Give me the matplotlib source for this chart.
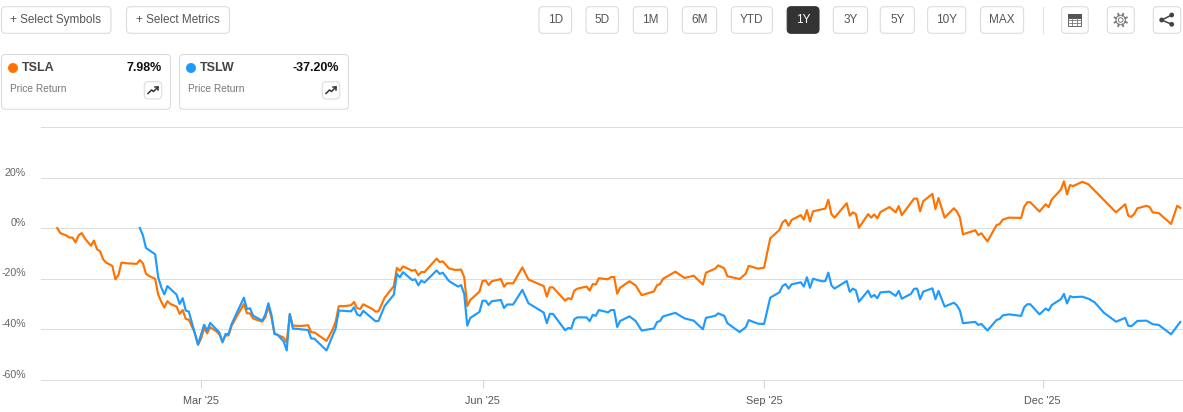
import numpy as np
import matplotlib
matplotlib.use('Agg')
import matplotlib.pyplot as plt
from matplotlib.patches import FancyBboxPatch, Circle, Rectangle

plt.rcParams['font.family'] = ['Liberation Sans', 'DejaVu Sans']

# days since 1 Jan 2025, percent price return
tsla_days = [12, 13, 15, 16, 17, 18, 19, 20, 21, 23, 24, 25, 26, 27, 28, 30, 31, 32, 33, 35, 38, 39, 40, 41, 42, 44,
             45, 46, 47, 48, 49, 51, 52, 53, 54, 55, 57, 58, 59, 60, 61, 62, 64, 65, 66, 67, 68, 69, 71, 73, 74, 75,
             76, 77, 79, 80, 81, 82, 83, 84, 86, 87, 88, 89, 92, 94, 95, 96, 100, 102, 103, 104, 106, 108, 109, 110,
             111, 112, 115, 116, 117, 119, 122, 123, 124, 125, 128, 129, 130, 131, 132, 136, 137, 138, 140, 142, 144,
             145, 146, 147, 150, 151, 152, 153, 154, 157, 158, 159, 161, 164, 166, 171, 172, 173, 174, 178, 179, 180,
             181, 182, 185, 186, 187, 188, 189, 192, 193, 194, 195, 196, 199, 201, 203, 207, 208, 209, 210, 214, 217,
             220, 223, 224, 227, 228, 230, 231, 235, 237, 238, 241, 243, 245, 248, 249, 250, 251, 252, 255, 256, 257,
             258, 259, 263, 264, 265, 266, 270, 271, 272, 273, 274, 277, 278, 279, 280, 281, 284, 286, 287, 288, 292,
             293, 294, 295, 298, 299, 300, 302, 305, 306, 307, 308, 312, 313, 314, 316, 319, 320, 321, 323, 327, 328,
             329, 330, 333, 335, 336, 337, 340, 341, 342, 343, 344, 347, 349, 358, 361, 362, 363, 364, 365, 368, 369,
             370, 372, 376, 378, 379]
tsla_vals = [0.0, -2.0, -3.0, -3.8, -3.8, -5.7, -2.9, -2.0, -4.1, -7.0, -5.0, -8.4, -9.2, -12.4, -13.7, -15.0, -20.3,
             -18.6, -13.7, -14.0, -14.2, -12.7, -14.0, -18.1, -19.0, -20.1, -26.4, -29.2, -31.5, -29.0, -30.1, -31.1,
             -34.0, -32.5, -36.0, -36.3, -41.6, -46.2, -43.9, -39.7, -41.7, -39.3, -40.9, -42.2, -45.0, -42.6, -42.5,
             -38.7, -34.3, -30.1, -33.8, -33.8, -35.8, -36.3, -37.1, -35.4, -31.1, -35.4, -41.7, -42.3, -43.4, -45.3,
             -34.3, -38.7, -38.8, -38.5, -41.3, -41.3, -44.7, -40.2, -37.1, -31.0, -30.9, -30.6, -29.3, -31.7, -32.1,
             -30.2, -32.1, -33.1, -33.0, -27.6, -23.0, -15.8, -16.9, -15.2, -16.9, -16.6, -18.7, -17.4, -17.5, -12.1,
             -13.5, -13.2, -16.0, -16.6, -16.5, -19.5, -30.9, -28.5, -25.2, -21.0, -20.8, -22.6, -21.1, -20.2, -23.2,
             -21.9, -21.9, -15.6, -20.4, -23.0, -27.2, -23.5, -23.5, -28.8, -27.8, -28.2, -24.8, -24.0, -23.2, -24.8,
             -22.2, -22.4, -19.9, -20.3, -19.4, -19.4, -26.0, -23.6, -21.1, -22.7, -26.6, -25.1, -22.7, -22.2, -20.1,
             -17.3, -19.8, -18.9, -22.4, -17.7, -16.1, -14.8, -16.0, -19.1, -20.2, -18.1, -15.0, -16.1, -15.7, -4.1,
             -0.8, 2.1, 3.2, 0.9, 3.2, 5.1, 3.3, 7.1, 2.6, 6.6, 7.7, 11.2, 5.5, 4.1, 9.8, 4.9, 6.2, 5.5, 0.1, 5.5, 4.1,
             5.4, 3.8, 6.3, 8.3, 6.2, 8.7, 5.1, 11.6, 11.7, 6.6, 10.6, 13.5, 7.5, 11.9, 4.1, 7.8, 6.6, 4.1, -2.5, -0.9,
             -2.8, -2.1, -5.3, 1.2, 1.6, 3.3, 4.1, 4.0, 8.4, 10.2, 10.2, 6.5, 9.4, 8.3, 11.3, 15.2, 18.5, 13.3, 17.0,
             16.6, 18.3, 17.3, 6.2, 9.4, 4.9, 4.4, 5.7, 7.8, 8.8, 8.3, 6.2, 5.9, 1.6, 8.8, 7.98]

tslw_days = [39, 40, 41, 44, 45, 46, 47, 48, 51, 52, 53, 54, 55, 58, 60, 61, 62, 65, 66, 67, 68, 69, 73, 74, 75, 76, 79,
             80, 81, 82, 83, 84, 86, 87, 88, 89, 94, 95, 96, 100, 103, 104, 108, 109, 110, 111, 112, 116, 117, 119,
             122, 123, 124, 125, 128, 129, 130, 131, 132, 136, 137, 138, 140, 143, 144, 145, 146, 147, 150, 151, 152,
             153, 154, 157, 158, 159, 161, 164, 166, 171, 172, 173, 174, 178, 179, 180, 181, 182, 185, 186, 187, 188,
             189, 192, 193, 194, 195, 196, 199, 201, 203, 207, 208, 209, 210, 214, 217, 220, 223, 224, 227, 228, 230,
             231, 235, 237, 238, 241, 243, 245, 248, 249, 250, 251, 252, 255, 256, 257, 258, 259, 262, 263, 264, 265,
             266, 270, 271, 272, 273, 274, 277, 278, 279, 280, 281, 284, 286, 287, 288, 291, 292, 293, 294, 295, 298,
             299, 300, 302, 305, 306, 307, 308, 312, 313, 314, 316, 319, 320, 321, 323, 327, 328, 329, 330, 333, 335,
             336, 337, 340, 341, 342, 343, 344, 347, 349, 351, 354, 358, 361, 362, 363, 365, 368, 370, 372, 376, 379]
tslw_vals = [0.0, -2.9, -7.9, -10.4, -19.5, -23.5, -26.3, -23.0, -26.4, -30.1, -27.8, -32.7, -33.1, -46.2, -38.3, -40.6,
             -37.6, -41.4, -45.3, -42.0, -42.0, -38.0, -27.6, -32.1, -31.8, -34.7, -36.7, -34.3, -29.8, -34.3, -42.0,
             -42.3, -44.9, -48.5, -34.0, -39.8, -40.4, -43.8, -43.8, -48.5, -39.7, -32.7, -33.0, -31.4, -34.2, -34.8,
             -32.8, -36.9, -36.8, -30.9, -26.4, -18.2, -19.5, -17.5, -20.6, -20.3, -22.7, -20.8, -21.6, -16.8, -18.2,
             -17.7, -21.0, -23.2, -22.6, -26.1, -38.7, -35.6, -33.2, -28.8, -28.8, -30.5, -29.0, -28.5, -31.7, -30.3,
             -30.3, -24.5, -29.8, -33.5, -37.7, -34.0, -34.0, -40.5, -39.6, -39.8, -36.1, -35.4, -35.4, -36.9, -34.4,
             -34.8, -32.5, -33.4, -32.5, -32.5, -39.2, -36.8, -35.0, -36.8, -40.6, -39.8, -37.3, -36.8, -35.0, -33.6,
             -35.8, -36.7, -40.1, -35.6, -34.8, -33.8, -34.8, -37.7, -41.2, -39.3, -36.5, -37.9, -38.0, -27.6, -25.5,
             -23.0, -22.2, -24.0, -22.3, -21.5, -23.2, -19.5, -23.7, -20.1, -21.1, -21.0, -17.7, -22.7, -24.0, -21.0,
             -25.3, -24.0, -24.7, -29.2, -24.8, -27.4, -26.5, -27.8, -25.5, -25.2, -26.9, -24.9, -28.0, -26.1, -24.1,
             -24.0, -28.2, -25.2, -23.9, -28.2, -24.9, -31.1, -29.6, -30.6, -32.7, -37.7, -37.2, -38.4, -38.0, -40.6,
             -36.4, -36.0, -34.6, -34.2, -34.8, -31.4, -30.2, -30.2, -34.2, -31.9, -32.7, -30.5, -28.2, -26.1, -29.9,
             -27.0, -27.4, -27.2, -28.0, -29.4, -33.5, -37.1, -35.6, -38.7, -38.9, -36.8, -36.7, -38.1, -38.4, -42.1,
             -37.2]

month_ticks = [59, 151, 243, 334]
month_labels = ["Mar '25", "Jun '25", "Sep '25", "Dec '25"]
y_ticks = [-60, -40, -20, 0, 20, 40]
y_labels = ['-60%', '-40%', '-20%', '0%', '20%', '']

range_names = ['1D', '5D', '1M', '6M', 'YTD', '1Y', '3Y', '5Y', '10Y', 'MAX']
range_edges = [(539, 571.6), (586, 618.5), (633.3, 667.6), (682.4, 716.6), (731.4, 772.4), (787.2, 819),
               (833.3, 867.6), (880.3, 914.5), (927.6, 965.7), (980.5, 1023.6)]

ORANGE = '#ff7200'
BLUE = '#1f9bff'
EDGE = '#dcdcdc'
W, H = 1183, 412

fig = plt.figure(figsize=(W / 100, H / 100), dpi=100, facecolor='white')

# the chart itself
ax = fig.add_axes([41 / W, 1 - 379.5 / H, (W - 41) / W, (379.5 - 127) / H])
ax.plot(tsla_days, tsla_vals, color=ORANGE, lw=1.55, solid_joinstyle='round', zorder=3)
ax.plot(tslw_days, tslw_vals, color=BLUE, lw=1.55, solid_joinstyle='round', zorder=4)
ax.set_xlim(6.7, 379.9)
ax.set_ylim(-60, 40)
ax.set_yticks(y_ticks, y_labels)
ax.set_xticks(month_ticks, month_labels)
ax.grid(True, axis='y', color='#dddddd', lw=0.75)
for s in ax.spines.values():
    s.set_visible(False)
ax.tick_params(axis='y', length=0, pad=10.8, labelsize=7.7, labelcolor='#666666')
ax.tick_params(axis='x', length=6.1, width=0.75, color='#d5d5d5', pad=6, labelsize=7.8, labelcolor='#555555')
for lab in ax.get_yticklabels():
    lab.set_verticalalignment('bottom')
for gl in ax.get_ygridlines():
    gl.set_clip_on(False)

# page controls above the chart, in pixel coordinates
ui = fig.add_axes([0, 0, 1, 1])
ui.set_xlim(0, W)
ui.set_ylim(H, 0)
ui.axis('off')
ui.patch.set_alpha(0)


def box(x0, y0, x1, y1, fc='white', ec=EDGE, r=4):
    ui.add_patch(FancyBboxPatch((x0 + r, y0 + r), x1 - x0 - 2 * r, y1 - y0 - 2 * r,
                                boxstyle='round,pad=%d,rounding_size=%d' % (r, r), fc=fc, ec=ec, lw=0.8))


box(1.5, 6.7, 111, 33.3)
ui.text(56, 20, '+ Select Symbols', ha='center', va='center', fontsize=8.5, color='#555555')
box(126.5, 6.7, 229.5, 33.3)
ui.text(178, 20, '+ Select Metrics', ha='center', va='center', fontsize=8.5, color='#555555')

for name, (x0, x1) in zip(range_names, range_edges):
    active = name == '1Y'
    box(x0, 6.7, x1, 33.3, fc='#333333' if active else 'white', ec='#333333' if active else EDGE)
    ui.text((x0 + x1) / 2, 20, name, ha='center', va='center', fontsize=8.5,
            color='white' if active else '#555555')

ui.plot([1042.7, 1042.7], [6.7, 33.3], color='#e2e2e2', lw=0.8)

# table, gear and share buttons
box(1061.7, 6.7, 1088.3, 33.3)
box(1107.3, 6.7, 1134.3, 33.3)
box(1153.3, 6.7, 1180.7, 33.3)
ui.add_patch(Rectangle((1068.5, 14), 12.2, 12, fc='white', ec='#666666', lw=0.7))
ui.add_patch(Rectangle((1068.5, 14), 12.2, 3.5, fc='#555555', ec='#555555', lw=0.7))
for gx in [1072.5, 1076.6]:
    ui.plot([gx, gx], [17.5, 26], color='#777777', lw=0.6)
for gy in [20.3, 23.2]:
    ui.plot([1068.5, 1080.7], [gy, gy], color='#777777', lw=0.6)

# gear outline
ui.add_patch(Circle((1120.7, 20), 2.3, fc='none', ec='#777777', lw=0.7))
ui.add_patch(Circle((1120.7, 20), 4.8, fc='none', ec='#777777', lw=0.7))
for a in np.arange(0, 2 * np.pi, np.pi / 4) + np.pi / 8:
    ui.plot([1120.7 + 4.8 * np.cos(a), 1120.7 + 6.6 * np.cos(a)],
            [20 + 4.8 * np.sin(a), 20 + 6.6 * np.sin(a)], color='#777777', lw=1.3)

ui.plot([1171.7, 1161.7, 1171.7], [15, 20, 24.3], color='#444444', lw=1.1)
for cx, cy in [(1171.7, 15), (1161.7, 20), (1171.7, 24.3)]:
    ui.add_patch(Circle((cx, cy), 2.4, fc='#444444', ec='none', zorder=5))

# the two symbol cards
cards = [(0, 'TSLA', '7.98%', ORANGE), (178, 'TSLW', '-37.20%', BLUE)]
for dx, sym, ret, col in cards:
    box(dx + 1.5, 54.5, dx + 170.5, 109.3)
    ui.add_patch(Circle((dx + 13, 68), 5, fc=col, ec='none'))
    ui.text(dx + 22, 68, sym, ha='left', va='center', fontsize=9, fontweight='bold', color='#444444')
    ui.text(dx + 161.5, 68, ret, ha='right', va='center', fontsize=9, fontweight='bold', color='#111111')
    ui.text(dx + 10.5, 88.5, 'Price Return', ha='left', va='center', fontsize=7.3, color='#777777')
    box(dx + 144.3, 81.7, dx + 161.7, 99)
    ui.plot([dx + 148, dx + 151.5, dx + 153.5, dx + 158], [93.5, 90, 91.5, 87], color='#333333', lw=1.1)
    ui.plot([dx + 155, dx + 158.5, dx + 158.5], [86.5, 86.5, 90], color='#333333', lw=1.1)

fig.savefig('out.png', dpi=100)
